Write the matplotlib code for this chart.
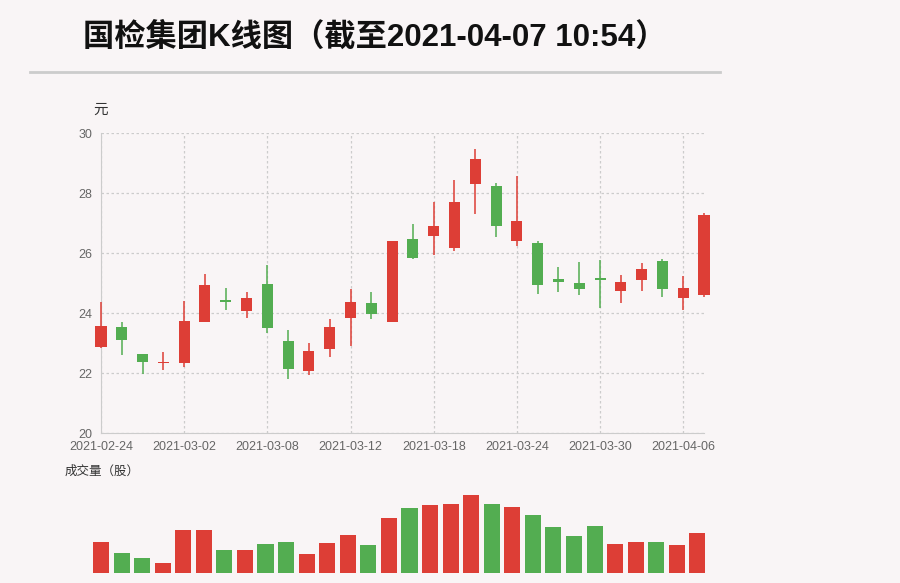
import matplotlib
matplotlib.use("Agg")
import matplotlib.pyplot as plt
import numpy as np

plt.rcParams['font.family'] = ['Noto Sans CJK SC', 'DejaVu Sans']

# trading days 2021-02-24 .. 2021-04-07
dates = ['2021-02-24', '2021-02-25', '2021-02-26', '2021-03-01', '2021-03-02',
         '2021-03-03', '2021-03-04', '2021-03-05', '2021-03-08', '2021-03-09',
         '2021-03-10', '2021-03-11', '2021-03-12', '2021-03-15', '2021-03-16',
         '2021-03-17', '2021-03-18', '2021-03-19', '2021-03-22', '2021-03-23',
         '2021-03-24', '2021-03-25', '2021-03-26', '2021-03-29', '2021-03-30',
         '2021-03-31', '2021-04-01', '2021-04-02', '2021-04-06', '2021-04-07']
opens = [22.88, 23.52, 22.63, 22.33, 22.32, 23.69, 24.44, 24.06, 24.97, 23.06,
         22.06, 22.81, 23.83, 24.33, 23.70, 26.47, 26.56, 26.16, 28.30, 28.22,
         26.40, 26.32, 25.12, 25.01, 25.17, 24.72, 25.11, 25.72, 24.50, 24.60]
closes = [23.57, 23.09, 22.36, 22.35, 23.74, 24.92, 24.37, 24.49, 23.49, 22.12,
          22.74, 23.52, 24.37, 23.98, 26.40, 25.84, 26.91, 27.70, 29.12, 26.90,
          27.08, 24.93, 25.02, 24.81, 25.10, 25.03, 25.47, 24.79, 24.84, 27.26]
highs = [24.38, 23.70, 22.63, 22.69, 24.41, 25.31, 24.84, 24.71, 25.61, 23.43,
         23.01, 23.81, 24.80, 24.69, 26.40, 26.98, 27.69, 28.44, 29.46, 28.34,
         28.58, 26.39, 25.54, 25.70, 25.78, 25.27, 25.67, 25.81, 25.24, 27.32]
lows = [22.83, 22.59, 21.98, 22.11, 22.20, 23.69, 24.11, 23.84, 23.32, 21.79,
        21.93, 22.52, 22.91, 23.81, 23.70, 25.79, 25.92, 26.07, 27.31, 26.52,
        26.24, 24.62, 24.69, 24.60, 24.18, 24.32, 24.72, 24.52, 24.10, 24.52]
volumes = [92, 61, 46, 29, 127, 128, 67, 67, 87, 91,
           56, 89, 112, 83, 164, 194, 203, 206, 232, 206,
           197, 172, 137, 111, 141, 86, 91, 91, 83, 119]

red = '#dd3e36'
green = '#53ad51'
bg = '#f9f5f6'

x = np.arange(len(dates))
colors = [red if c >= o else green for o, c in zip(opens, closes)]

fig = plt.figure(figsize=(9, 5.83), dpi=100, facecolor=bg)

fig.text(83 / 900, 1 - 38 / 583, '国检集团K线图（截至2021-04-07 10:54）',
         fontsize=22.5, fontweight='bold', color='#111111', va='center', ha='left',
         family=['Liberation Sans', 'Noto Sans CJK SC'])
fig.add_artist(plt.Line2D([30 / 900, 720 / 900], [1 - 72 / 583, 1 - 72 / 583],
                          color='#cccccc', lw=2))

# price panel
ax = fig.add_axes([101 / 900, 1 - 433 / 583, 603 / 900, 300 / 583])
ax.set_facecolor(bg)
for i in x:
    ax.vlines(i, lows[i], highs[i], color=colors[i], lw=1.1, clip_on=False, zorder=3)
    lo = min(opens[i], closes[i])
    h = max(abs(closes[i] - opens[i]), 0.05)
    ax.bar(i, h, bottom=lo, width=0.53, color=colors[i], clip_on=False, zorder=4)
ax.set_xlim(0, 29)
ax.set_ylim(20, 30)
ax.set_yticks(np.arange(20, 31, 2))
ax.set_xticks(x[::4])
ax.set_xticklabels(dates[::4])
ax.grid(True, color='#cccccc', ls=(0, (2, 2)), lw=0.9)
for s in ['top', 'right']:
    ax.spines[s].set_visible(False)
for s in ['left', 'bottom']:
    ax.spines[s].set_color('#cccccc')
ax.tick_params(length=0, colors='#666666', labelsize=9, pad=6)
for lab in ax.get_xticklabels() + ax.get_yticklabels():
    lab.set_family(['Liberation Sans', 'DejaVu Sans'])
ax.text(0, 30.55, '元', fontsize=10.5, color='#333333', ha='center', va='bottom')

# volume panel
vax = fig.add_axes([90.7 / 900, 1 - 573 / 583, 617 / 900, 83 / 583])
vax.set_facecolor(bg)
vax.bar(x, volumes, width=0.78, color=colors, edgecolor='none')
vax.set_xlim(-0.5, 29.5)
vax.set_ylim(0, 247)
vax.axis('off')
fig.text(65 / 900, 1 - 471 / 583, '成交量（股）', fontsize=9, color='#333333',
         ha='left', va='center')

fig.savefig('out.png', dpi=100, facecolor=bg)
